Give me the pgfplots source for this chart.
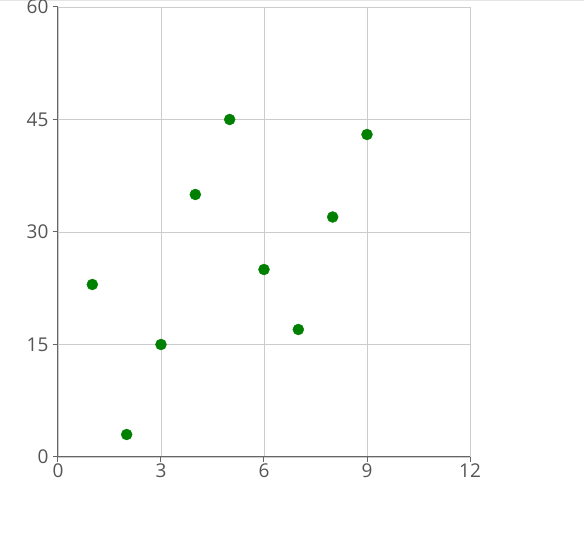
\documentclass[border=0pt]{standalone}
\usepackage{fontspec}
\setmainfont{Open Sans}
\usepackage{pgfplots}
\pgfplotsset{compat=1.18}
\definecolor{axisgray}{HTML}{666666}
\definecolor{gridgray}{HTML}{CCCCCC}
\definecolor{labelgray}{HTML}{555555}
\definecolor{ptgreen}{HTML}{008000}
\begin{document}
\begin{tikzpicture}[x=1pt,y=1pt]
\useasboundingbox (-58,-100) rectangle (526,457);
\fill[gray!20] (-58,455.5) rectangle (526,457);
\begin{axis}[
  at={(0,0)}, anchor=south west,
  width=412pt, height=450pt, scale only axis,
  xmin=0, xmax=12, ymin=0, ymax=60,
  xtick={0,3,6,9,12}, ytick={0,15,30,45,60},
  axis lines*=left,
  axis line style={color=axisgray, line width=1pt},
  grid=major,
  major grid style={color=gridgray, line width=0.9pt},
  tick align=outside,
  major tick length=5pt,
  tick style={color=axisgray, line width=1pt},
  tick label style={font=\fontsize{19}{22}\selectfont, text=labelgray},
  /pgf/number format/assume math mode=true,
  xticklabel style={yshift=2pt},
  yticklabel style={xshift=-1pt},
  clip=false,
]
\addplot[only marks, mark=*, mark size=5.5pt, mark options={fill=ptgreen, draw=ptgreen}]
  coordinates {(1,23) (2,3) (3,15) (4,35) (5,45) (6,25) (7,17) (8,32) (9,43)};
\end{axis}
\end{tikzpicture}
\end{document}
